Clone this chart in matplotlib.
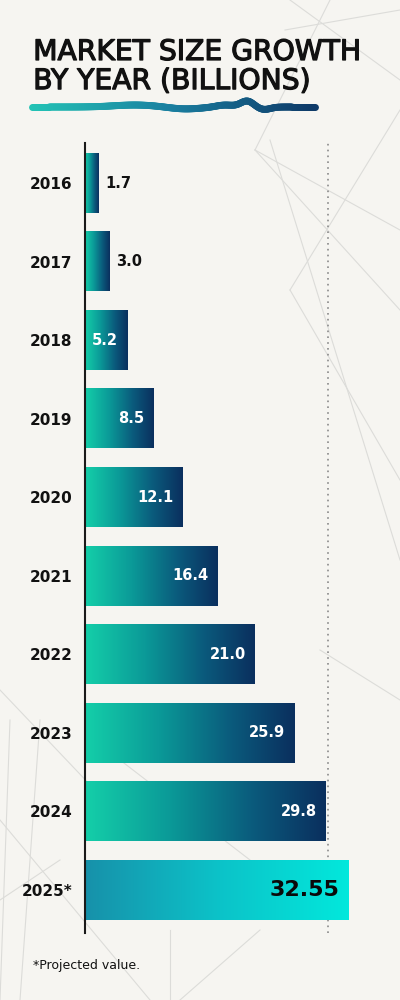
import numpy as np
import matplotlib
matplotlib.use("Agg")
import matplotlib.pyplot as plt
import matplotlib.patheffects as pe
from matplotlib.colors import LinearSegmentedColormap
from matplotlib.collections import LineCollection

# data
years = ["2016", "2017", "2018", "2019", "2020", "2021", "2022", "2023", "2024", "2025*"]
values = [1.7, 3.0, 5.2, 8.5, 12.1, 16.4, 21.0, 25.9, 29.8, 32.55]
labels = ["1.7", "3.0", "5.2", "8.5", "12.1", "16.4", "21.0", "25.9", "29.8", "32.55"]
ref_line = 30

bg = "#f6f5f1"
bar_cmap = LinearSegmentedColormap.from_list(
    "bars", [(0, "#14cfa9"), (0.35, "#0b9a98"), (0.7, "#0a5a7c"), (1, "#0b2f5e")])
proj_cmap = LinearSegmentedColormap.from_list("proj", ["#1791aa", "#0cc2c8", "#02e8dc"])

fig = plt.figure(figsize=(4, 10), dpi=100)
fig.patch.set_facecolor(bg)

# faint background geometry
deco = fig.add_axes([0, 0, 1, 1])
deco.set_xlim(0, 400)
deco.set_ylim(1000, 0)
deco.axis("off")
segs = [
    [(330, 0), (255, 150)], [(290, 0), (400, 80)], [(285, 30), (400, 10)],
    [(255, 150), (400, 230)], [(255, 150), (400, 310)], [(400, 110), (290, 290)],
    [(290, 290), (400, 480)], [(270, 140), (400, 560)],
    [(0, 690), (95, 790)], [(10, 720), (0, 1000)], [(0, 820), (150, 1000)],
    [(40, 720), (20, 1000)], [(0, 900), (60, 860)], [(120, 760), (250, 860)],
    [(320, 650), (400, 700)], [(260, 930), (180, 1000)], [(170, 930), (170, 1000)],
]
for s in segs:
    deco.plot([s[0][0], s[1][0]], [s[0][1], s[1][1]], color="#dcdcd9", lw=0.8, zorder=0)

# title
fig.text(0.083, 0.962, "MARKET SIZE GROWTH\nBY YEAR (BILLIONS)", ha="left", va="top",
         fontsize=20.3, family="DejaVu Sans", color="#111111", linespacing=1.05,
         path_effects=[pe.withStroke(linewidth=0.9, foreground="#111111")])

# wavy underline
wx = np.linspace(32, 315, 300)
wy = (107 - 2 * np.exp(-((wx - 135) / 30) ** 2) + 2 * np.exp(-((wx - 185) / 22) ** 2)
      - 2 * np.exp(-((wx - 225) / 12) ** 2)
      - 6 * np.exp(-((wx - 247) / 9) ** 2) + 2.5 * np.exp(-((wx - 264) / 9) ** 2))
pts = np.array([wx, wy]).T.reshape(-1, 1, 2)
lc = LineCollection(np.concatenate([pts[:-1], pts[1:]], axis=1),
                    cmap=LinearSegmentedColormap.from_list("w", ["#23c3b5", "#1a7fa0", "#0e3a68"]),
                    lw=5, capstyle="round")
lc.set_array(np.linspace(0, 1, len(wx) - 1))
deco.add_collection(lc)

# bar chart
ax = fig.add_axes([0.2125, 0.067, 0.7275, 0.79])
ax.set_facecolor("none")
y = np.arange(len(years))
bars = ax.barh(y, values, height=0.76, color="none", edgecolor="none")
ax.set_xlim(0, 36)
ax.set_ylim(len(years) - 0.45, -0.51)
grad = np.linspace(0, 1, 256).reshape(1, -1)
for i, b in enumerate(bars):
    x0, y0 = b.get_x(), b.get_y()
    cm = proj_cmap if i == len(bars) - 1 else bar_cmap
    ax.imshow(grad, cmap=cm, aspect="auto", extent=[x0, x0 + b.get_width(), y0 + b.get_height(), y0],
              zorder=2)

ax.axvline(ref_line, color="#8a8a8a", lw=1.2, ls=(0, (1, 2.5)), zorder=1)

for i, (v, lab) in enumerate(zip(values, labels)):
    if i == len(values) - 1:
        ax.annotate(lab, (v, i), xytext=(-6, 0), textcoords="offset points", ha="right", va="center",
                    fontsize=16, fontweight="bold", color="#0a0a0a", zorder=3)
    elif v < 4:
        ax.annotate(lab, (v, i), xytext=(5, 0), textcoords="offset points", ha="left", va="center",
                    fontsize=10.5, fontweight="bold", color="#111111", zorder=3)
    else:
        ax.annotate(lab, (v, i), xytext=(-6.5, 0), textcoords="offset points", ha="right", va="center",
                    fontsize=10.5, fontweight="bold", color="white", zorder=3)

ax.set_yticks(y)
ax.set_yticklabels(years, fontsize=11, fontweight="bold", color="#111111")
ax.tick_params(axis="y", length=0, pad=9)
ax.set_xticks([])
for sp in ["top", "right", "bottom"]:
    ax.spines[sp].set_visible(False)
ax.spines["left"].set_linewidth(1.5)
ax.spines["left"].set_color("#1a1a1a")

fig.text(0.083, 0.035, "*Projected value.", ha="left", va="center", fontsize=9, color="#111111")

fig.savefig("out.png", dpi=100, facecolor=bg)
